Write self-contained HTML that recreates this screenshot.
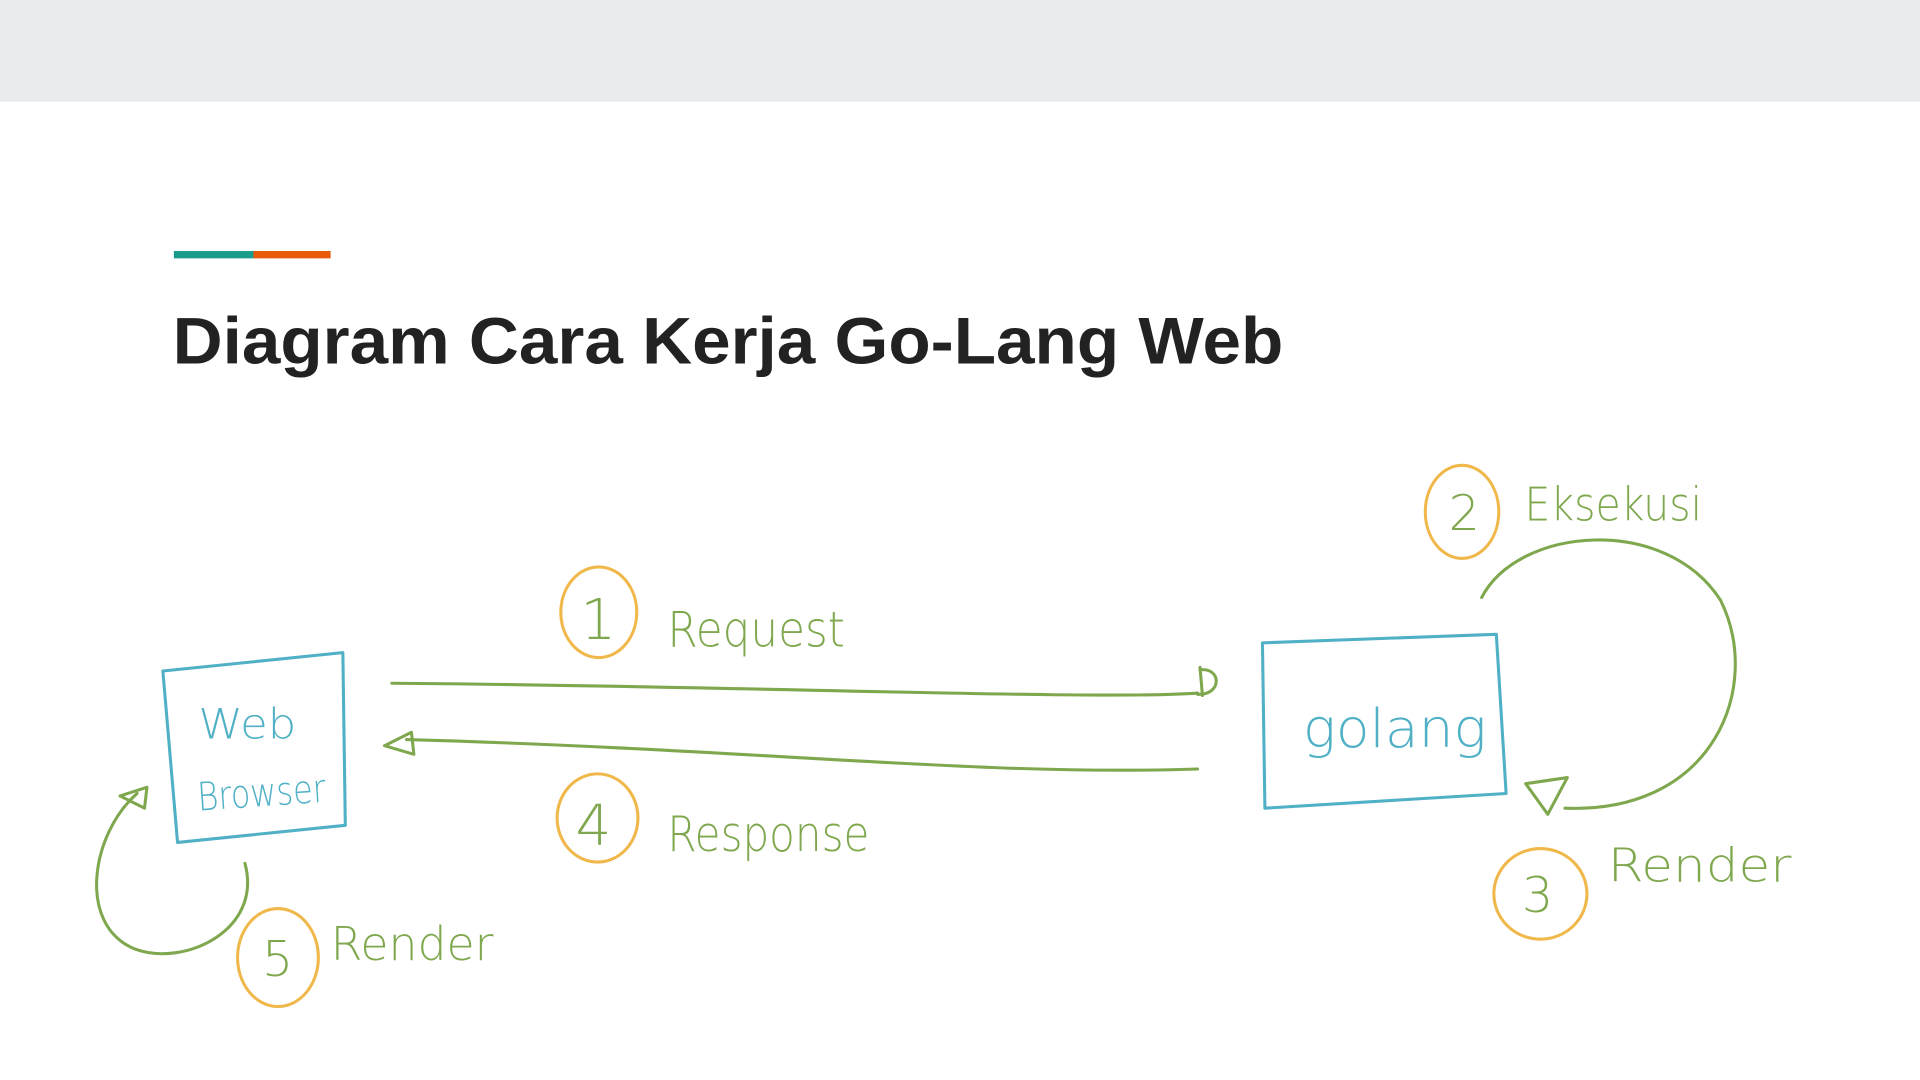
<!DOCTYPE html>
<html><head><meta charset="utf-8"><style>
html,body{margin:0;padding:0;background:#fff;}
svg{display:block;}
</style></head><body>
<svg width="1920" height="1080" viewBox="0 0 1568 882" xmlns="http://www.w3.org/2000/svg">
<rect x="0" y="0" width="1568" height="83" fill="#e8ecee"/>
<rect x="142" y="205" width="65" height="6" fill="#1a9c8c"/>
<rect x="207" y="205" width="63" height="6" fill="#e8590c"/>
<text x="141" y="297" font-family="Liberation Sans, sans-serif" font-weight="bold" font-size="54" fill="#222" textLength="907" lengthAdjust="spacingAndGlyphs">Diagram Cara Kerja Go-Lang Web</text>
<g fill="none" stroke-linecap="round" stroke-linejoin="round">
<!-- boxes -->
<path d="M133,548 L280,533 L282,674 L145,688 Z" stroke="#4fb0c6" stroke-width="2.5"/>
<path d="M1031,525 L1222,518 L1230,648 L1033,660 Z" stroke="#4fb0c6" stroke-width="2.5"/>
<!-- request -->
<path d="M320,558 C600,560 900,572 978,566" stroke="#7fa84e" stroke-width="2.5"/>
<path d="M980,545 L982,568 M980,547 C998,545 998,568 978,567" stroke="#7fa84e" stroke-width="2.5"/>
<!-- response -->
<path d="M978,628 C800,634 620,612 332,604" stroke="#7fa84e" stroke-width="2.5"/>
<path d="M336,598 L314,609 L338,616 Z" stroke="#7fa84e" stroke-width="2.5"/>
<!-- loop 2/3 -->
<path d="M1210,488 C1240,430 1360,420 1405,490 C1440,560 1400,665 1278,660" stroke="#7fa84e" stroke-width="2.5"/>
<path d="M1246,640 L1280,635 L1264,665 Z" stroke="#7fa84e" stroke-width="2.5"/>
<!-- loop 5 -->
<path d="M200,705 C215,760 150,790 110,775 C62,755 75,680 112,648" stroke="#7fa84e" stroke-width="2.5"/>
<path d="M98,650 L120,643 L118,660 Z" stroke="#7fa84e" stroke-width="2.5"/>
<!-- circles -->
<ellipse cx="489" cy="500" rx="31" ry="37" stroke="#f0b84a" stroke-width="2.5"/>
<ellipse cx="488" cy="668" rx="33" ry="36" stroke="#f0b84a" stroke-width="2.5"/>
<ellipse cx="1194" cy="418" rx="30" ry="38" stroke="#f0b84a" stroke-width="2.5"/>
<ellipse cx="1258" cy="730" rx="38" ry="37" stroke="#f0b84a" stroke-width="2.5"/>
<ellipse cx="227" cy="782" rx="33" ry="40" stroke="#f0b84a" stroke-width="2.5"/>
</g>
<g font-family="DejaVu Sans, sans-serif" font-weight="200" fill="#7fa84e">
<text x="474" y="522" font-size="46">1</text>
<text x="470" y="690" font-size="46">4</text>
<text x="1183" y="433" font-size="40">2</text>
<text x="1243" y="745" font-size="40">3</text>
<text x="214" y="797" font-size="40">5</text>
<text x="545" y="528" font-size="40" textLength="145" lengthAdjust="spacingAndGlyphs">Request</text>
<text x="545" y="695" font-size="40" textLength="165" lengthAdjust="spacingAndGlyphs">Response</text>
<text x="1245" y="425" font-size="38" textLength="145" lengthAdjust="spacingAndGlyphs">Eksekusi</text>
<text x="1313" y="720" font-size="38" textLength="150" lengthAdjust="spacingAndGlyphs">Render</text>
<text x="270" y="784" font-size="38" textLength="133" lengthAdjust="spacingAndGlyphs">Render</text>
</g>
<g font-family="DejaVu Sans, sans-serif" font-weight="200" fill="#4fb0c6">
<text x="162" y="603" font-size="34" textLength="80" lengthAdjust="spacingAndGlyphs">Web</text>
<text x="162" y="662" font-size="32" textLength="105" lengthAdjust="spacingAndGlyphs" transform="rotate(-4 162 662)">Browser</text>
<text x="1064" y="610" font-size="44" textLength="150" lengthAdjust="spacingAndGlyphs">golang</text>
</g>
</svg>
</body></html>
